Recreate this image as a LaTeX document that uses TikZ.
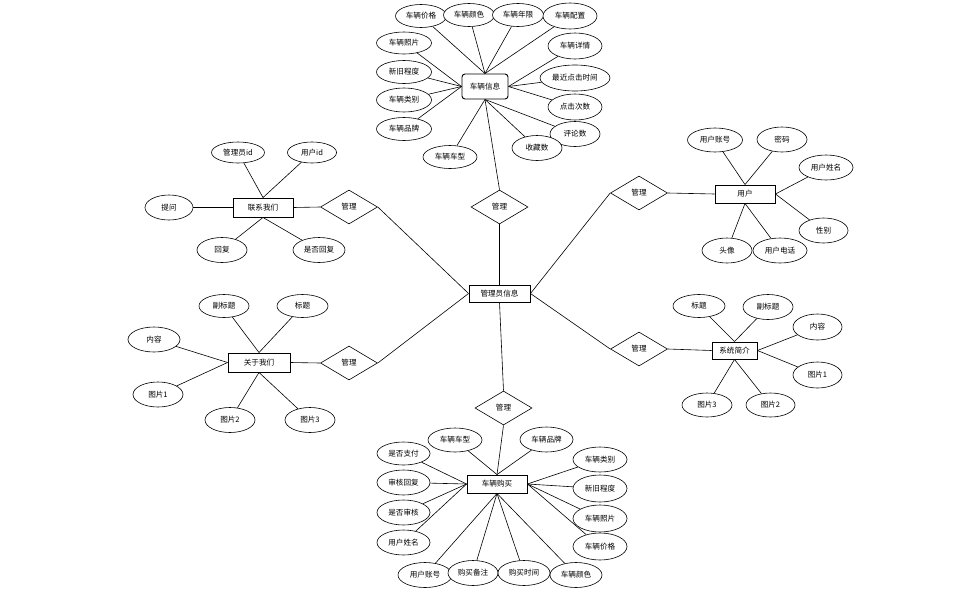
\documentclass[tikz,border=0pt]{standalone}
\usepackage{fontspec}
\setmainfont{Noto Sans CJK SC}
\usetikzlibrary{shapes.geometric}
\pgfdeclarelayer{bg}
\pgfsetlayers{bg,main}
\begin{document}
\begin{tikzpicture}[x=1pt,y=-1pt,
  every node/.style={font=\fontsize{7.6}{8}\selectfont, inner sep=0pt},
  attr/.style={draw, fill=white, ellipse, line width=0.6pt, minimum width=51pt, minimum height=23pt},
  ent/.style={draw, fill=white, rectangle, line width=0.9pt},
  rel/.style={draw, fill=white, diamond, line width=0.6pt, minimum width=57pt, minimum height=34pt},
  link/.style={line width=0.6pt}
]
\useasboundingbox (0,0) rectangle (964,600);

% center
\node[ent, minimum width=61pt, minimum height=17pt] (adm) at (499.5,293.5) {管理员信息};

% diamonds
\node[rel] (dT) at (499.5,207) {管理};
\node[rel] (dLT) at (349,207) {管理};
\node[rel] (dLB) at (349,363) {管理};
\node[rel] (dB) at (503.5,408) {管理};
\node[rel] (dRT) at (639,193) {管理};
\node[rel] (dRB) at (639,349) {管理};

% ---------- 车辆信息 ----------
\node[ent, rounded corners=3pt, minimum width=46pt, minimum height=25pt] (car) at (485,86.5) {车辆信息};
\node[attr] (c1) at (421,16) {车辆价格};
\node[attr] (c2) at (469,15) {车辆颜色};
\node[attr] (c3) at (518,15) {车辆年限};
\node[attr, minimum width=54pt, minimum height=26pt] (c4) at (570,16) {车辆配置};
\node[attr, minimum width=55pt, minimum height=22pt] (c5) at (404,43) {车辆照片};
\node[attr, minimum width=54pt, minimum height=26pt] (c6) at (575,46) {车辆详情};
\node[attr, minimum width=55pt, minimum height=23pt] (c7) at (404,72) {新旧程度};
\node[attr, minimum width=70pt, minimum height=26pt] (c8) at (575,78) {最近点击时间};
\node[attr, minimum width=55pt, minimum height=24pt] (c9) at (404,100) {车辆类别};
\node[attr, minimum width=54pt, minimum height=26pt] (c10) at (575,107) {点击次数};
\node[attr, minimum width=55pt, minimum height=23pt] (c11) at (404,129) {车辆品牌};
\node[attr, minimum width=50pt, minimum height=25pt] (c12) at (575,134) {评论数};
\node[attr, minimum width=50pt, minimum height=25pt] (c13) at (537,148) {收藏数};
\node[attr, minimum width=54pt, minimum height=23pt] (c14) at (450,157) {车辆车型};

% ---------- 联系我们 ----------
\node[ent, minimum width=60pt, minimum height=19pt] (lx) at (263,207.5) {联系我们};
\node[attr, minimum width=53pt, minimum height=21pt] (l1) at (238,152.5) {管理员id};
\node[attr, minimum width=49pt, minimum height=21pt] (l2) at (312,152.5) {用户id};
\node[attr, minimum width=48pt, minimum height=25pt] (l3) at (169,207.5) {提问};
\node[attr, minimum width=50pt, minimum height=25pt] (l4) at (222,250) {回复};
\node[attr, minimum width=52pt, minimum height=25pt] (l5) at (319,250) {是否回复};

% ---------- 用户 ----------
\node[ent, minimum width=60pt, minimum height=18pt] (yh) at (745,194) {用户};
\node[attr, minimum width=55pt, minimum height=24pt] (u1) at (715,140) {用户账号};
\node[attr, minimum width=50pt, minimum height=25pt] (u2) at (782,139.5) {密码};
\node[attr, minimum width=54pt, minimum height=25pt] (u3) at (826,167.5) {用户姓名};
\node[attr, minimum width=49pt, minimum height=25pt] (u4) at (823.5,230.5) {性别};
\node[attr, minimum width=50pt, minimum height=25pt] (u5) at (727,250.5) {头像};
\node[attr, minimum width=54pt, minimum height=25pt] (u6) at (780,250.5) {用户电话};

% ---------- 关于我们 ----------
\node[ent, minimum width=62pt, minimum height=19pt] (gy) at (259,362.5) {关于我们};
\node[attr, minimum width=50pt, minimum height=23pt] (g1) at (224,306) {副标题};
\node[attr, minimum width=51pt, minimum height=23pt] (g2) at (302.5,306) {标题};
\node[attr, minimum width=52pt, minimum height=25pt] (g3) at (154,339.5) {内容};
\node[attr, minimum width=50pt, minimum height=25pt] (g4) at (158,394.5) {图片1};
\node[attr, minimum width=50pt, minimum height=25pt] (g5) at (230,420) {图片2};
\node[attr, minimum width=50pt, minimum height=25pt] (g6) at (310,420) {图片3};

% ---------- 系统简介 ----------
\node[ent, minimum width=45pt, minimum height=17pt] (xt) at (734.5,350.5) {系统简介};
\node[attr, minimum width=52pt, minimum height=23pt] (s1) at (699,306) {标题};
\node[attr, minimum width=50pt, minimum height=25pt] (s2) at (768,307) {副标题};
\node[attr, minimum width=49pt, minimum height=26pt] (s3) at (817.5,327) {内容};
\node[attr, minimum width=49pt, minimum height=26pt] (s4) at (817.5,375) {图片1};
\node[attr, minimum width=50pt, minimum height=24pt] (s5) at (707,405) {图片3};
\node[attr, minimum width=49pt, minimum height=24pt] (s6) at (770.5,405) {图片2};

% ---------- 车辆购买 ----------
\node[ent, minimum width=60pt, minimum height=18pt] (gm) at (497,484) {车辆购买};
\node[attr, minimum width=54pt, minimum height=24pt] (b1) at (455,440) {车辆车型};
\node[attr, minimum width=53pt, minimum height=25pt] (b2) at (546.5,439.5) {车辆品牌};
\node[attr, minimum width=53pt, minimum height=23pt] (b3) at (403.5,453.5) {是否支付};
\node[attr, minimum width=54pt, minimum height=25pt] (b4) at (600,459.5) {车辆类别};
\node[attr, minimum width=53pt, minimum height=25pt] (b5) at (403.5,482.5) {审核回复};
\node[attr, minimum width=54pt, minimum height=27pt] (b6) at (600,488.5) {新旧程度};
\node[attr, minimum width=53pt, minimum height=25pt] (b7) at (403.5,512.5) {是否审核};
\node[attr, minimum width=54pt, minimum height=27pt] (b8) at (600,518.5) {车辆照片};
\node[attr, minimum width=53pt, minimum height=25pt] (b9) at (403.5,542.5) {用户姓名};
\node[attr, minimum width=54pt, minimum height=27pt] (b10) at (600,546.5) {车辆价格};
\node[attr, minimum width=54pt, minimum height=25pt] (b11) at (425,575) {用户账号};
\node[attr, minimum width=50pt, minimum height=25pt] (b12) at (473,573) {购买备注};
\node[attr, minimum width=52pt, minimum height=25pt] (b13) at (524,573) {购买时间};
\node[attr, minimum width=52pt, minimum height=25pt] (b14) at (576,575) {车辆颜色};

% ---------- connectors ----------
\begin{pgfonlayer}{bg}
\draw[link] (dT.south) -- (adm.north);
\draw[link] (dLT.east) -- (adm.west);
\draw[link] (dLB.east) -- (adm.west);
\draw[link] (dRT.west) -- (adm.east);
\draw[link] (dRB.west) -- (adm.east);
\draw[link] (dB.north) -- (adm.south);

\foreach \n in {c1,c2,c3,c4} \draw[link] (\n) -- (car.north);
\foreach \n in {c5,c7,c9,c11} \draw[link] (\n) -- (car.west);
\foreach \n in {c6,c8,c10} \draw[link] (\n) -- (car.east);
\foreach \n in {c12,c13,c14} \draw[link] (\n) -- (car.south);
\draw[link] (car.south) -- (dT.north);

\draw[link] (l1) -- (lx.north);
\draw[link] (l2) -- (lx.north);
\draw[link] (l3) -- (lx.west);
\draw[link] (l4) -- (lx.south);
\draw[link] (l5) -- (lx.south);
\draw[link] (lx.east) -- (dLT.west);

\draw[link] (u1) -- (yh.north);
\draw[link] (u2) -- (yh.north);
\draw[link] (u3) -- (yh.east);
\draw[link] (u4) -- (yh.east);
\draw[link] (u5) -- (yh.south);
\draw[link] (u6) -- (yh.south);
\draw[link] (dRT.east) -- (yh.west);

\draw[link] (g1) -- (gy.north);
\draw[link] (g2) -- (gy.north);
\draw[link] (g3) -- (gy.west);
\draw[link] (g4) -- (gy.west);
\draw[link] (g5) -- (gy.south);
\draw[link] (g6) -- (gy.south);
\draw[link] (gy.east) -- (dLB.west);

\draw[link] (s1) -- (xt.north);
\draw[link] (s2) -- (xt.north);
\draw[link] (s3) -- (xt.east);
\draw[link] (s4) -- (xt.east);
\draw[link] (s5) -- (xt.south);
\draw[link] (s6) -- (xt.south);
\draw[link] (dRB.east) -- (xt.west);

\draw[link] (dB.south) -- (gm.north);
\foreach \n in {b1,b2} \draw[link] (\n) -- (gm.north);
\foreach \n in {b3,b5,b7,b9} \draw[link] (\n) -- (gm.west);
\foreach \n in {b4,b6,b8,b10} \draw[link] (\n) -- (gm.east);
\foreach \n in {b11,b12,b13,b14} \draw[link] (\n) -- (gm.south);
\end{pgfonlayer}
\end{tikzpicture}
\end{document}
